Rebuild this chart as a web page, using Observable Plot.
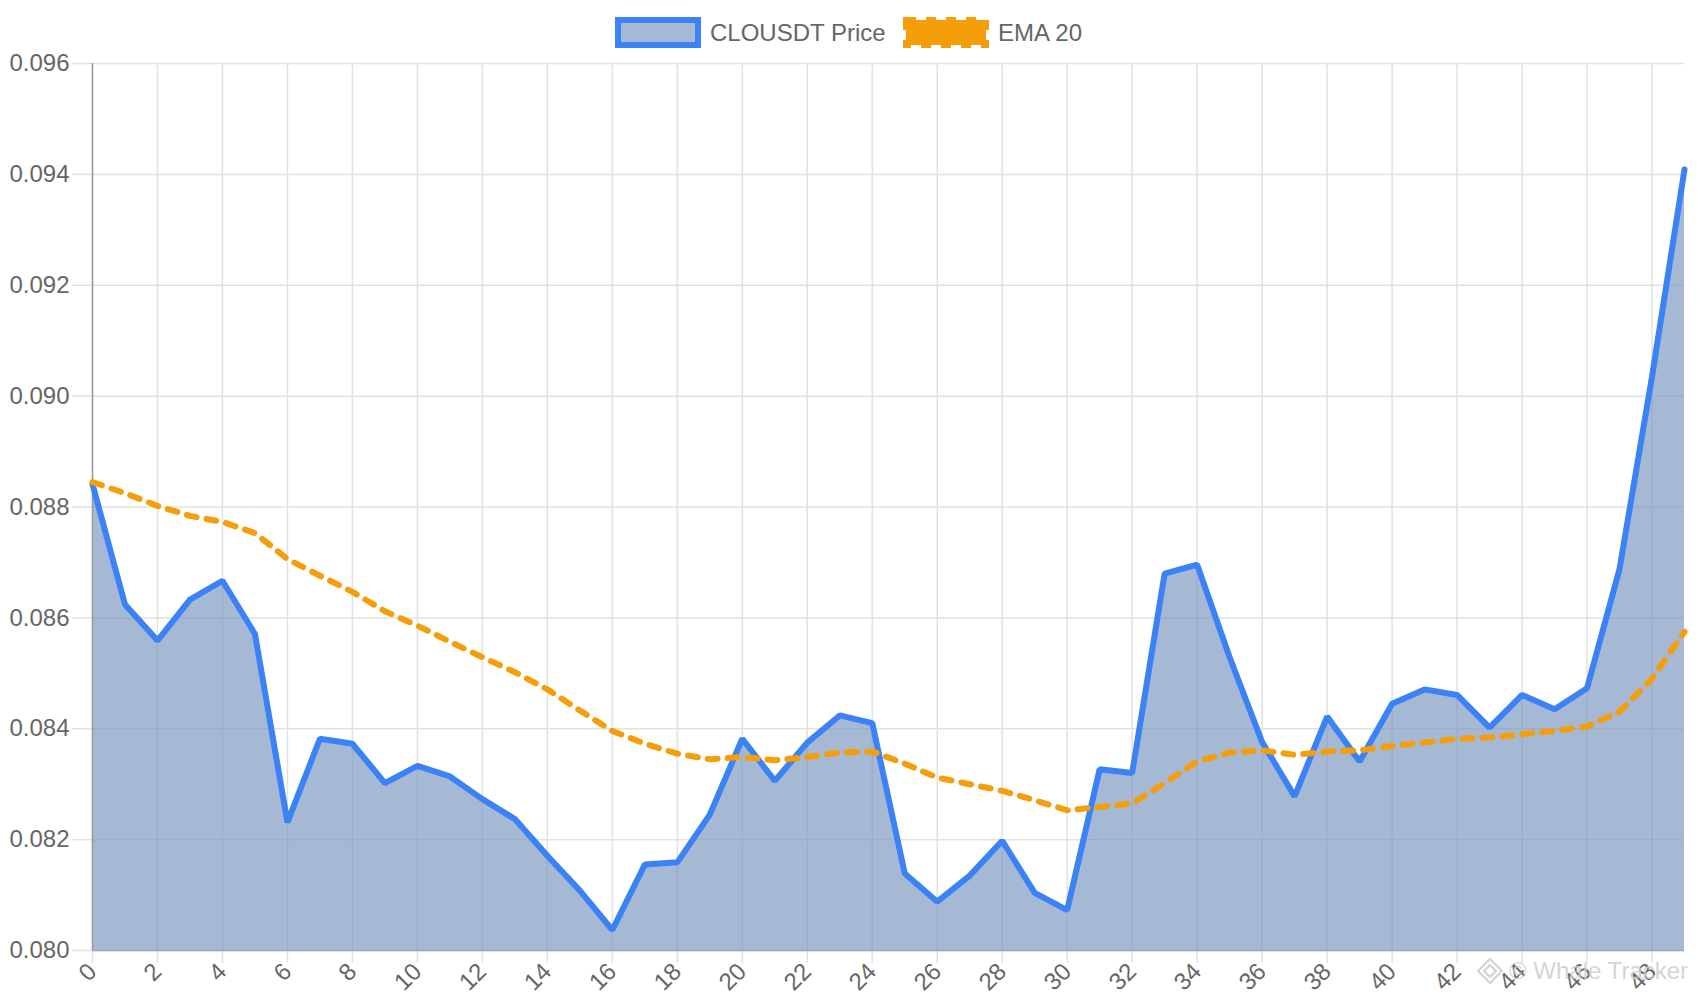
<!DOCTYPE html>
<html><head><meta charset="utf-8">
<script src="https://cdn.jsdelivr.net/npm/d3@7"></script>
<script src="https://cdn.jsdelivr.net/npm/@observablehq/plot@0.6"></script>
<style>
body{margin:0;background:#fff;font-family:"Liberation Sans",Arial,sans-serif;}
#wrap{position:relative;width:1700px;height:1000px;overflow:hidden;}
#legend{position:relative;height:56px;width:1700px;}
.lbox{position:absolute;top:17px;height:31px;}
.ltxt{position:absolute;top:17px;height:31px;line-height:31px;font-size:24px;color:#666;white-space:nowrap;}
#wm{position:absolute;left:1476px;top:957px;font-size:24px;color:rgba(205,205,205,0.85);white-space:nowrap;display:flex;align-items:center;gap:5px;}
</style></head>
<body>
<div id="wrap">
  <div id="legend">
    <div class="lbox" style="left:615px;width:86px;box-sizing:border-box;border:6px solid #3b82f6;background:#a6b9d4;"></div>
    <div class="ltxt" style="left:710px;" id="lt1"></div>
    <svg class="lbox" style="left:903px;" width="86" height="31"><rect x="3" y="3" width="80" height="25" fill="#f59e0b" stroke="#f59e0b" stroke-width="6" stroke-dasharray="10,10"/></svg>
    <div class="ltxt" style="left:998px;" id="lt2"></div>
  </div>
  <div id="chart"></div>
  <div id="wm"><svg width="28" height="28" viewBox="0 0 28 28"><g fill="none" stroke="rgba(205,205,205,0.9)" stroke-width="2"><path d="M14 2 L26 14 L14 26 L2 14 Z"/><path d="M14 8 L20 14 L14 20 L8 14 Z"/></g></svg><span>© Whale Tracker</span></div>
</div>
<script>
const seriesNames = ["CLOUSDT Price", "EMA 20"];
const index = d3.range(0, 50);
const price = [0.08841,0.08624,0.08559,0.08633,0.08667,0.08571,0.08231,0.08382,0.08373,0.08302,
  0.08333,0.08314,0.08273,0.08237,0.08171,0.08108,0.08037,0.08155,0.08159,0.08245,
  0.08382,0.08306,0.08375,0.08424,0.08410,0.08139,0.08088,0.08135,0.08198,0.08104,
  0.08073,0.08327,0.08320,0.08680,0.08696,0.08529,0.08376,0.08278,0.08422,0.08341,
  0.08445,0.08471,0.08461,0.08402,0.08461,0.08435,0.08473,0.08688,0.09035,0.09409];
const ema = [0.08845,0.08825,0.08802,0.08784,0.08773,0.08753,0.08706,0.08676,0.08647,0.08612,
  0.08586,0.08557,0.08529,0.08502,0.08471,0.08433,0.08396,0.08373,0.08355,0.08345,
  0.08349,0.08343,0.08349,0.08357,0.08359,0.08337,0.08312,0.08300,0.08288,0.08271,
  0.08253,0.08259,0.08265,0.08302,0.08341,0.08357,0.08361,0.08353,0.08359,0.08361,
  0.08369,0.08375,0.08382,0.08384,0.08390,0.08396,0.08404,0.08431,0.08490,0.08575];
const xTicks = [0,2,4,6,8,10,12,14,16,18,20,22,24,26,28,30,32,34,36,38,40,42,44,46,48];
const yTicks = [0.080,0.082,0.084,0.086,0.088,0.090,0.092,0.094,0.096];

document.getElementById("lt1").textContent = seriesNames[0];
document.getElementById("lt2").textContent = seriesNames[1];

const rows = index.map((i) => ({i, price: price[i], ema: ema[i]}));
const yMin = yTicks[0];
const gridColor = "#e2e2e2";

const chart = Plot.plot({
  width: 1700, height: 944,
  marginTop: 7, marginBottom: 50, marginLeft: 92, marginRight: 16,
  style: {fontFamily: '"Liberation Sans", Arial, sans-serif', fontSize: "24px", color: "#666", background: "#fff", overflow: "visible"},
  x: {domain: [index[0], index[index.length - 1]]},
  y: {domain: [yTicks[0], yTicks[yTicks.length - 1]]},
  marks: [
    Plot.gridY(yTicks, {stroke: gridColor, strokeOpacity: 1, strokeWidth: 1.5}),
    Plot.gridX(xTicks, {stroke: gridColor, strokeOpacity: 1, strokeWidth: 1.5}),
    Plot.axisY(yTicks, {tickSize: 20, tickPadding: 3, tickFormat: ".3f", stroke: gridColor, strokeWidth: 1.5, fill: "#666", label: null}),
    Plot.axisX(xTicks, {tickSize: 13, tickPadding: 4, tickRotate: -45, stroke: gridColor, strokeWidth: 1.5, fill: "#666", label: null}),
    Plot.areaY(rows, {x: "i", y1: yMin, y2: "price", fill: "rgb(118,148,189)", fillOpacity: 0.65}),
    Plot.ruleX([index[0]], {stroke: "#999", strokeWidth: 1.5}),
    Plot.ruleY([yMin], {stroke: "#9aa9bf", strokeWidth: 1.5}),
    Plot.lineY(rows, {x: "i", y: "price", stroke: "#3b82f6", strokeWidth: 6, strokeLinejoin: "miter"}),
    Plot.lineY(rows, {x: "i", y: "ema", stroke: "#f59e0b", strokeWidth: 6, strokeDasharray: "10,10"})
  ]
});
document.getElementById("chart").appendChild(chart);
</script>
</body></html>
